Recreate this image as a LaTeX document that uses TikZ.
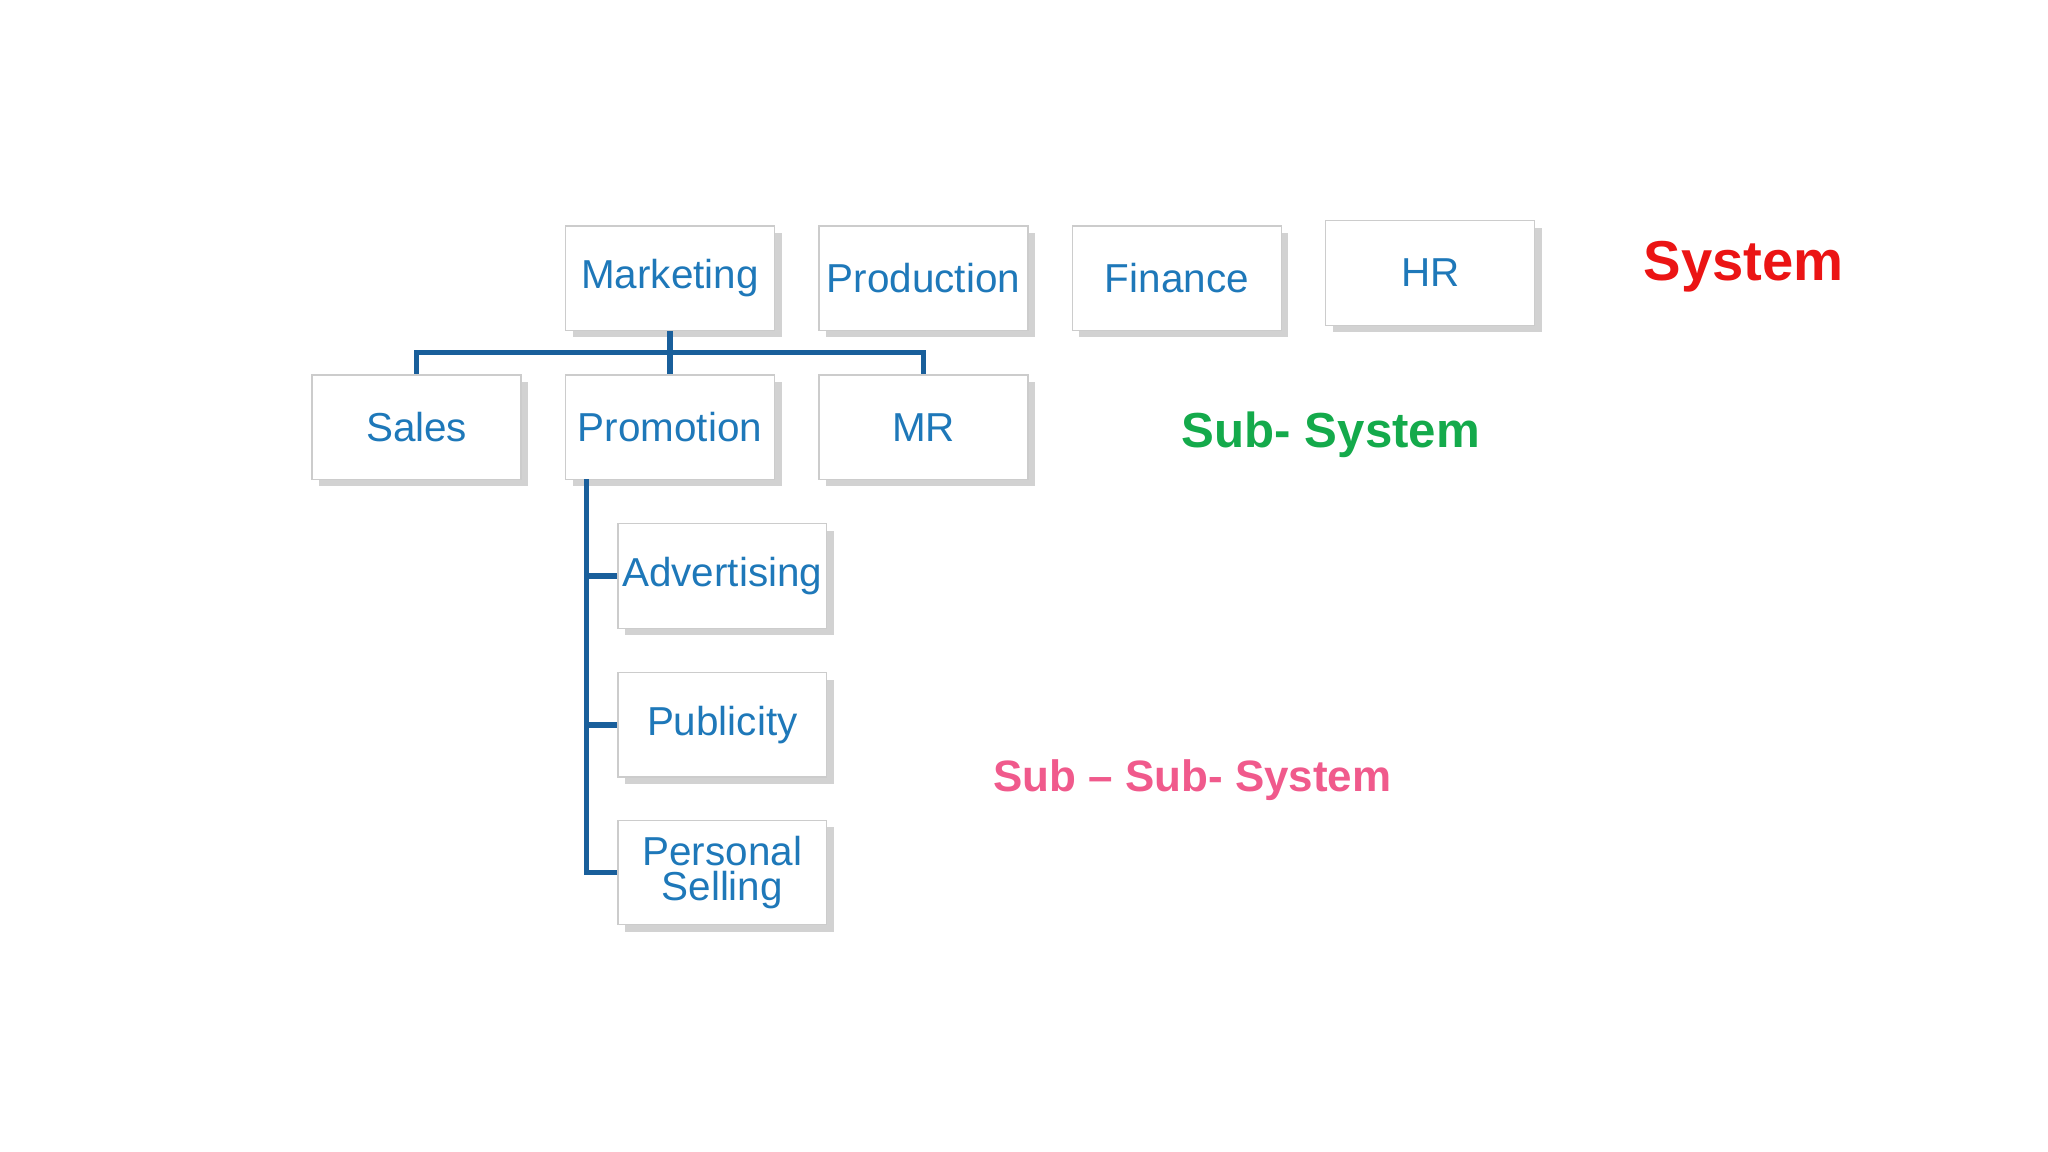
\documentclass[tikz,border=0pt]{standalone}
\usepackage{fontspec}
\setmainfont{Liberation Sans}
\usetikzlibrary{shadows}
\definecolor{txt}{RGB}{30,120,185}
\definecolor{ln}{RGB}{25,95,155}
\definecolor{sysred}{RGB}{235,20,20}
\definecolor{subgreen}{RGB}{20,170,75}
\definecolor{subpink}{RGB}{240,90,140}
\begin{document}
\begin{tikzpicture}[x=0.013061cm,y=-0.013061cm,
  box/.style={draw=gray!40,fill=white,minimum width=160*0.013061cm,minimum height=80*0.013061cm,
    inner sep=0pt,align=center,text=txt,font=\fontsize{11.5}{13}\selectfont,
    drop shadow={shadow xshift=2pt,shadow yshift=-2pt,fill=gray!70}},
  conn/.style={draw=ln,line width=1.5pt}]
\useasboundingbox (0,0) rectangle (1568,882);
\node[box] (mkt) at (513,213) {Marketing};
\node[box] (prod) at (707,213) {Production};
\node[box] (fin) at (901,213) {Finance};
\node[box] (hr) at (1095,209) {HR};
\node[box] (sales) at (319,327) {Sales};
\node[box] (promo) at (513,327) {Promotion};
\node[box] (mr) at (707,327) {MR};
\node[box] (adv) at (553,441) {Advertising};
\node[box] (pub) at (553,555) {Publicity};
\node[box] (ps) at (553,668) {Personal\\[-3pt]Selling};
\coordinate (j) at (513,270);
\draw[conn] (mkt.south) -- (j);
\draw[conn] (j) -| (sales.north);
\draw[conn] (j) -- (promo.north);
\draw[conn] (j) -| (mr.north);
\coordinate (v) at (449,367);
\draw[conn] (v) |- (ps.west);
\draw[conn] (v |- adv.west) -- (adv.west);
\draw[conn] (v |- pub.west) -- (pub.west);
\node[text=sysred,font=\bfseries\fontsize{16}{18}\selectfont] (sys) at (1335,204) {System};
\node[text=subgreen,font=\bfseries\fontsize{14}{16}\selectfont] (sub) at (1019,333) {Sub- System};
\node[text=subpink,font=\bfseries\fontsize{12.5}{14}\selectfont] (subsub) at (913,597) {Sub – Sub- System};
\end{tikzpicture}
\end{document}
